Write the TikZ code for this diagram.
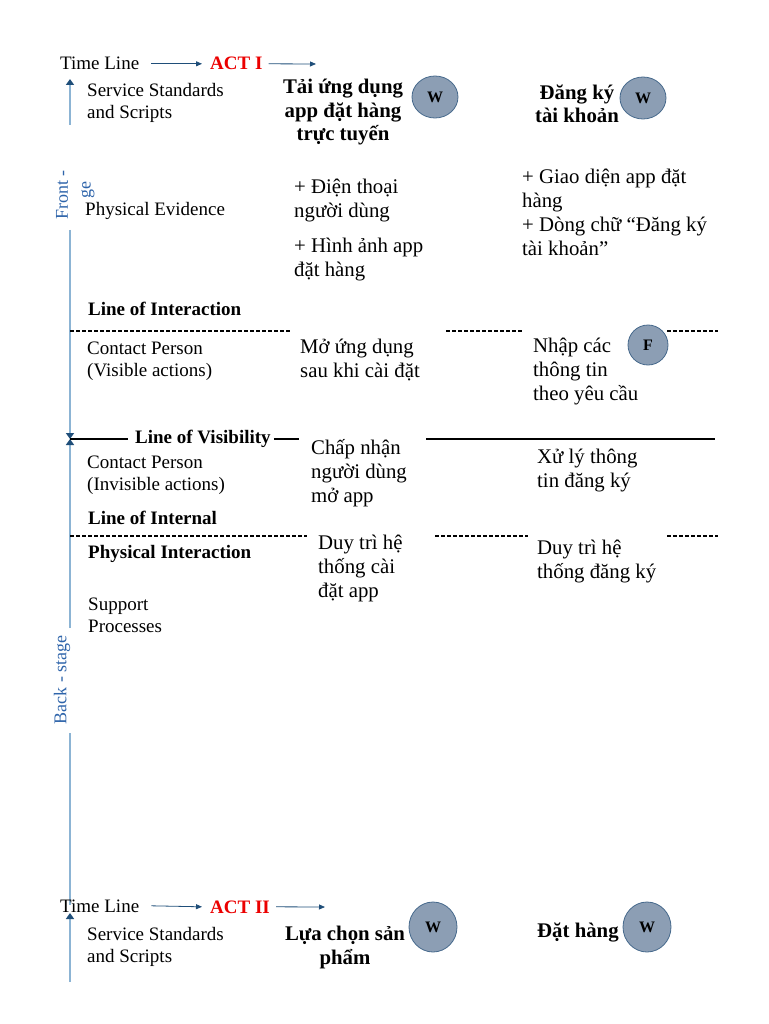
\documentclass[tikz,border=0pt]{standalone}
\usepackage{fontspec}
\setmainfont{Liberation Serif}
\usetikzlibrary{
    shapes.geometric,
    arrows.meta,
    positioning
}
\definecolor{stageblue}{RGB}{46,100,170}
\definecolor{axisblue}{RGB}{140,180,212}
\definecolor{arrowblue}{RGB}{31,78,121}
\definecolor{actfill}{RGB}{140,158,180}
\definecolor{actdraw}{RGB}{70,105,140}
\definecolor{actred}{RGB}{235,0,0}

\begin{document}
\begin{tikzpicture}[
    x=1pt, y=-1pt,
    lane/.style={anchor=base west, inner sep=0pt, align=left, font=\fontsize{19}{22}\selectfont},
    laneline/.style={lane, font=\fontsize{19}{22}\selectfont\bfseries},
    entry/.style={anchor=base west, inner sep=0pt, align=left, font=\fontsize{20.8}{24}\selectfont},
    title/.style={anchor=base, inner sep=0pt, align=center, font=\fontsize{20.8}{23.5}\selectfont\bfseries},
    act/.style={anchor=base west, inner sep=0pt, text=actred, font=\fontsize{19}{22}\selectfont\bfseries},
    stage/.style={rotate=90, inner sep=0pt, text=stageblue, font=\fontsize{18}{20}\selectfont},
    moment/.style={ellipse, draw=actdraw, thick, fill=actfill, minimum width=46pt, minimum height=42pt, inner sep=0pt, font=\fontsize{16}{16}\selectfont\bfseries},
    arrow/.style={-{Triangle[length=6pt,width=5pt]}, arrowblue, thick},
    axis/.style={axisblue, line width=1.8pt},
    axistip/.style={axis, -{Triangle[length=6pt,width=8pt,color=arrowblue]}},
    divider/.style={dash pattern=on 4pt off 2pt, line width=1.2pt},
    visline/.style={line width=1.2pt}
]
    \useasboundingbox (0,0) rectangle (768,1024);

    % Act I header
    \node (time1) [lane] at (60,70) {Time Line};
    \node (act1) [act] at (210,70) {ACT I};
    \coordinate (act1end) at (316,64);
    \draw [arrow] ([xshift=12pt]time1.east) -- ([xshift=-8pt]act1.west);
    \draw [arrow] ([xshift=6pt]act1.east) -- (act1end);

    % Left axis
    \coordinate (ax1) at (70,125);
    \coordinate (ax1tip) at (70,79);
    \coordinate (ax2) at (70,230);
    \coordinate (vis) at (70,439);
    \coordinate (ax3) at (70,628);
    \coordinate (ax4) at (70,733);
    \coordinate (ax5) at (70,905);
    \coordinate (ax6) at (70,982);
    \coordinate (ax6tip) at (70,913);
    \draw [axistip] (ax1) -- (ax1tip);
    \draw [axistip] (ax2) -- (vis);
    \draw [axistip] (ax3) -- (vis);
    \draw [axis] (ax4) -- (ax5);
    \draw [axistip] (ax6) -- (ax6tip);
    \node (front) [stage] at (62,195) {Front -};
    \node (frontcut) [stage] at (88,190) {ge};
    \node (back) [stage] at (62,680) {Back - stage};

    % Lane labels (base = last line)
    \node (scripts1) [lane] at (87,119) {Service Standards\\and Scripts};
    \node (evidence) [lane] at (85,216) {Physical Evidence};
    \node (interaction) [laneline] at (88,315) {Line of Interaction};
    \node (onstage) [lane] at (87,376) {Contact Person\\(Visible actions)};
    \node (visibility) [laneline] at (135,443) {Line of Visibility};
    \node (backstage) [lane] at (87,490) {Contact Person\\(Invisible actions)};
    \node (internal) [laneline] at (88,524) {Line of Internal};
    \node (physical) [laneline] at (88,558) {Physical Interaction};
    \node (support) [lane] at (88,632) {Support\\Processes};

    % Separating lines
    \draw [divider] (70,331) -- (290,331);
    \draw [divider] (446,331) -- (523,331);
    \draw [divider] (667,331) -- (718,331);
    \draw [visline] (vis) -- ([xshift=-7pt]visibility.west |- vis);
    \draw [visline] ([xshift=3pt]visibility.east |- vis) -- ++(25,0);
    \draw [visline] (426,439) -- (715,439);
    \draw [divider] (70,536) -- (307,536);
    \draw [divider] (435,536) -- (528,536);
    \draw [divider] (667,536) -- (718,536);

    % Step: download
    \node (download) [title] at (343,141) {Tải ứng dụng\\app đặt hàng\\trực tuyến};
    \node (w1) [moment] at (435,97) {W};
    \node (phone) [entry] at (294,218) {+ Điện thoại\\người dùng};
    \node (appimg) [entry] at (294,276) {+ Hình ảnh app\\đặt hàng};
    \node (openapp) [entry] at (300,377) {Mở ứng dụng\\sau khi cài đặt};
    \node (accept) [entry] at (311,502) {Chấp nhận\\người dùng\\mở app};
    \node (keepinst) [entry] at (318,597) {Duy trì hệ\\thống cài\\đặt app};

    % Step: register
    \node (register) [title] at (577,123) {Đăng ký\\tài khoản};
    \node (w2) [moment] at (643,98) {W};
    \node (screen) [entry] at (522,255) {+ Giao diện app đặt\\hàng\\+ Dòng chữ “Đăng ký\\tài khoản”};
    \node (input) [entry] at (533,400) {Nhập các\\thông tin\\theo yêu cầu};
    \node (f1) [moment, minimum width=40pt, minimum height=40pt] at (648,345) {F};
    \node (process) [entry] at (537,487) {Xử lý thông\\tin đăng ký};
    \node (keepreg) [entry] at (537,578) {Duy trì hệ\\thống đăng ký};

    % Act II header
    \node (time2) [lane] at (60,912) {Time Line};
    \node (act2) [act] at (210,913) {ACT II};
    \coordinate (act2end) at (325,907);
    \draw [arrow] ([xshift=12pt]time2.east) -- ([xshift=-8pt]act2.west);
    \draw [arrow] ([xshift=6pt]act2.east) -- (act2end);
    \node (scripts2) [lane] at (87,962) {Service Standards\\and Scripts};
    \node (choose) [title] at (345,964) {Lựa chọn sản\\phẩm};
    \node (w3) [moment, minimum width=48pt, minimum height=50pt] at (433,927) {W};
    \node (order) [title, anchor=base west] at (537,937) {Đặt hàng};
    \node (w4) [moment, minimum width=48pt, minimum height=50pt] at (647,927) {W};

\end{tikzpicture}
\end{document}
